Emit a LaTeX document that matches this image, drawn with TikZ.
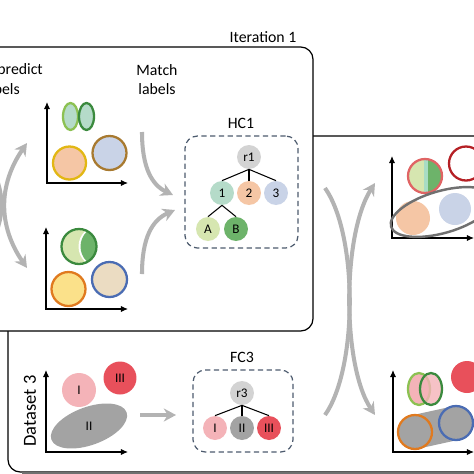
\documentclass[tikz,border=0pt]{standalone}
\usepackage{fontspec}
\setmainfont{Carlito}
\usetikzlibrary{arrows.meta}
\definecolor{FlowGray}{HTML}{B3B3B3}
\definecolor{BoxSlate}{HTML}{4D5B6E}
\definecolor{MintFill}{HTML}{B5DBC9}
\definecolor{PeachFill}{HTML}{F5C6A5}
\definecolor{SkyFill}{HTML}{C9D3E7}
\definecolor{LimeFill}{HTML}{D6E6B0}
\definecolor{LeafGreen}{HTML}{6DB36A}
\definecolor{RootGray}{HTML}{D3D3D3}
\definecolor{RoseFill}{HTML}{F4B3B8}
\definecolor{StoneGray}{HTML}{A3A3A3}
\definecolor{BerryRed}{HTML}{E8505B}
\definecolor{GoldLine}{HTML}{E2B714}
\definecolor{BronzeLine}{HTML}{A87A30}
\definecolor{PineGreen}{HTML}{3B8A3E}
\definecolor{SproutGreen}{HTML}{8CC152}
\definecolor{LemonFill}{HTML}{FBE18A}
\definecolor{OrangeLine}{HTML}{E07A1F}
\definecolor{SandFill}{HTML}{EBDCC2}
\definecolor{CobaltLine}{HTML}{4A6CB3}
\definecolor{CoralLine}{HTML}{E06464}
\definecolor{WineRed}{HTML}{B52025}
\definecolor{SlateLine}{HTML}{707070}
\definecolor{SeamTeal}{HTML}{A8DCC4}

\tikzset{
  flowtip/.tip={Stealth[length=7pt,width=7.5pt]},
  flowline/.style={draw=FlowGray, line width=2.3pt},
  plotaxis/.style={line width=0.6pt, {Latex[length=4pt,width=3.5pt]}-{Latex[length=4pt,width=3.5pt]}},
  dashbox/.style={draw=BoxSlate, dash pattern=on 3pt off 2pt, line width=0.7pt, rounded corners=7pt, inner sep=0pt},
  treenode/.style={circle, minimum size=0.48cm, inner sep=0pt, font=\fontsize{7.5}{8}\selectfont},
  blob/.style={line width=1.3pt},
  caption/.style={font=\fontsize{9}{10.8}\selectfont, align=center},
}

\begin{document}
\begin{tikzpicture}[x=0.02cm,y=-0.02cm]
  \useasboundingbox (0,0) rectangle (474,474);

  % outer box, partly hidden behind iteration 1
  \draw[line width=0.7pt, rounded corners=7pt] (8,136) rectangle (520,472);
  \draw[SlateLine, line width=1.7pt] (22,473) -- (474,473);

  % iteration 1
  \node[caption] (iterlabel) at (263,37) {Iteration 1};
  \draw[fill=white, line width=0.7pt, rounded corners=7pt] (-20,47) rectangle (313,331);

  \node[caption, anchor=east] (predtop) at (49,70) {predict};
  \node[caption, anchor=east] (predbot) at (26,89) {labels};
  \node[caption] (matchlabel) at (157,79.5) {Match\\labels};

  % split arrows on the left
  \coordinate (lsrcT) at (-30,140);
  \coordinate (lsrcB) at (-30,270);
  \coordinate (ltoT) at (27,143);
  \coordinate (ltoB) at (27,268);
  \draw[flowline] (lsrcT) .. controls (12,182) and (12,228) .. (lsrcB);
  \draw[flowline, flowtip-flowtip] (ltoT) .. controls (-2,185) and (-2,226) .. (ltoB);

  % plot 1
  \draw[plotaxis] (47,102) -- (47,183) -- (128,183);
  \draw[blob, draw=SproutGreen, fill=MintFill] (70.5,116.5) ellipse[x radius=7.5, y radius=13.5];
  \draw[blob, draw=PineGreen, fill=MintFill] (86.5,116.5) ellipse[x radius=7.5, y radius=13.5];
  \draw[blob, draw=GoldLine, fill=PeachFill] (69.5,163) circle[radius=16.5];
  \draw[blob, draw=BronzeLine, fill=SkyFill] (109.5,153) circle[radius=17];

  % plot 2
  \draw[plotaxis] (46,227) -- (46,309) -- (128,309);
  \begin{scope}
    \clip (79,246.5) circle[radius=17.5];
    \fill[LimeFill] (60,228) rectangle (98,266);
    \fill[white] (99.5,246.5) circle[radius=21];
    \fill[LeafGreen] (101,246.5) circle[radius=20.5];
  \end{scope}
  \draw[blob, draw=PineGreen] (79,246.5) circle[radius=17.5];
  \draw[blob, draw=OrangeLine, fill=LemonFill] (68.5,289) circle[radius=17];
  \draw[blob, draw=CobaltLine, fill=SandFill] (109.5,279.5) circle[radius=17.5];

  % match labels
  \coordinate (mtop) at (142,132);
  \coordinate (mbot) at (142,274);
  \coordinate (hcinT) at (173,195);
  \coordinate (hcinB) at (175,210);
  \draw[flowline, -flowtip] (mtop) .. controls (142,168) and (152,185) .. (hcinT);
  \draw[flowline, -flowtip] (mbot) .. controls (142,238) and (152,220) .. (hcinB);

  % HC1
  \node[caption] (hclabel) at (241,123) {HC1};
  \node[dashbox, minimum width=2.26cm, minimum height=2.24cm] (hcbox) at (241.5,192) {};
  \node[treenode, fill=RootGray] (r1) at (249,157) {r1};
  \node[treenode, fill=MintFill] (n1) at (222,193) {1};
  \node[treenode, fill=PeachFill] (n2) at (249,193) {2};
  \node[treenode, fill=SkyFill] (n3) at (276,193) {3};
  \node[treenode, fill=LimeFill] (nA) at (208,229) {A};
  \node[treenode, fill=LeafGreen] (nB) at (236,229) {B};
  \draw[line width=0.6pt] (r1.south) -- (n1.north);
  \draw[line width=0.6pt] (r1.south) -- (n2.north);
  \draw[line width=0.6pt] (r1.south) -- (n3.north);
  \draw[line width=0.6pt] (n1.south) -- (nA.north);
  \draw[line width=0.6pt] (n1.south) -- (nB.north);

  % dataset 3
  \node[rotate=90, font=\fontsize{10.5}{12}\selectfont] (dslabel) at (30,411) {Dataset 3};
  \draw[plotaxis] (46,370) -- (46,452) -- (128,452);
  \fill[StoneGray, rotate around={20:(89,426)}] (89,426) ellipse[x radius=40, y radius=19];
  \node[font=\fontsize{7.5}{8}\selectfont] (dsII) at (89,426) {II};
  \node[treenode, fill=RoseFill, minimum size=0.68cm] (dsI) at (79,390) {I};
  \node[treenode, fill=BerryRed, minimum size=0.66cm] (dsIII) at (120,378) {III};

  \coordinate (dsout) at (140,415);
  \coordinate (fcin) at (176,415);
  \draw[flowline, -flowtip] (dsout) -- (fcin);

  % FC3
  \node[caption] (fclabel) at (242,357) {FC3};
  \node[dashbox, minimum width=2.0cm, minimum height=1.64cm] (fcbox) at (243,411) {};
  \node[treenode, fill=RootGray] (r3) at (242,393) {r3};
  \node[treenode, fill=RoseFill] (fI) at (215,428) {I};
  \node[treenode, fill=StoneGray] (fII) at (242,428) {II};
  \node[treenode, fill=BerryRed] (fIII) at (269,428) {III};
  \draw[line width=0.6pt] (r3.south) -- (fI.north);
  \draw[line width=0.6pt] (r3.south) -- (fII.north);
  \draw[line width=0.6pt] (r3.south) -- (fIII.north);

  % merge / split arrows in the middle
  \coordinate (csrcT) at (325,188);
  \coordinate (csrcB) at (325,415);
  \coordinate (ctoT) at (375,183);
  \coordinate (ctoB) at (375,415);
  \draw[flowline] (csrcT) .. controls (358,235) and (358,368) .. (csrcB);
  \draw[flowline, flowtip-flowtip] (ctoT) .. controls (342,235) and (342,365) .. (ctoB);

  % top right plot
  \draw[plotaxis] (392,156) -- (392,238) -- (474,238);
  \begin{scope}
    \clip (425,176) circle[radius=17];
    \fill[LimeFill] (405,156) rectangle (445,196);
    \fill[SeamTeal] (424,156) rectangle (428,196);
    \fill[LeafGreen] (428,156) rectangle (445,196);
  \end{scope}
  \draw[blob, draw=CoralLine] (425,176) circle[radius=17];
  \draw[blob, draw=WineRed] (466,163.5) circle[radius=17];
  \fill[PeachFill] (413,218) circle[radius=17];
  \fill[SkyFill] (455,209) circle[radius=16];
  \draw[SlateLine, line width=1.4pt, rotate around={16:(442,212)}] (442,212) ellipse[x radius=53, y radius=21];

  % bottom right plot
  \draw[plotaxis] (393,370) -- (393,452) -- (474,452);
  \draw[blob, draw=SproutGreen, fill=RoseFill] (419,389) ellipse[x radius=11, y radius=16];
  \draw[blob, draw=PineGreen, fill=RoseFill, fill opacity=0.8] (431,389) ellipse[x radius=11, y radius=16];
  \fill[BerryRed] (467,377) circle[radius=16];
  \draw[StoneGray, line width=0.68cm, line cap=round] (415,432) -- (456,423);
  \draw[blob, draw=OrangeLine] (415,432) circle[radius=17];
  \draw[blob, draw=CobaltLine] (456,423) circle[radius=17];
\end{tikzpicture}
\end{document}
